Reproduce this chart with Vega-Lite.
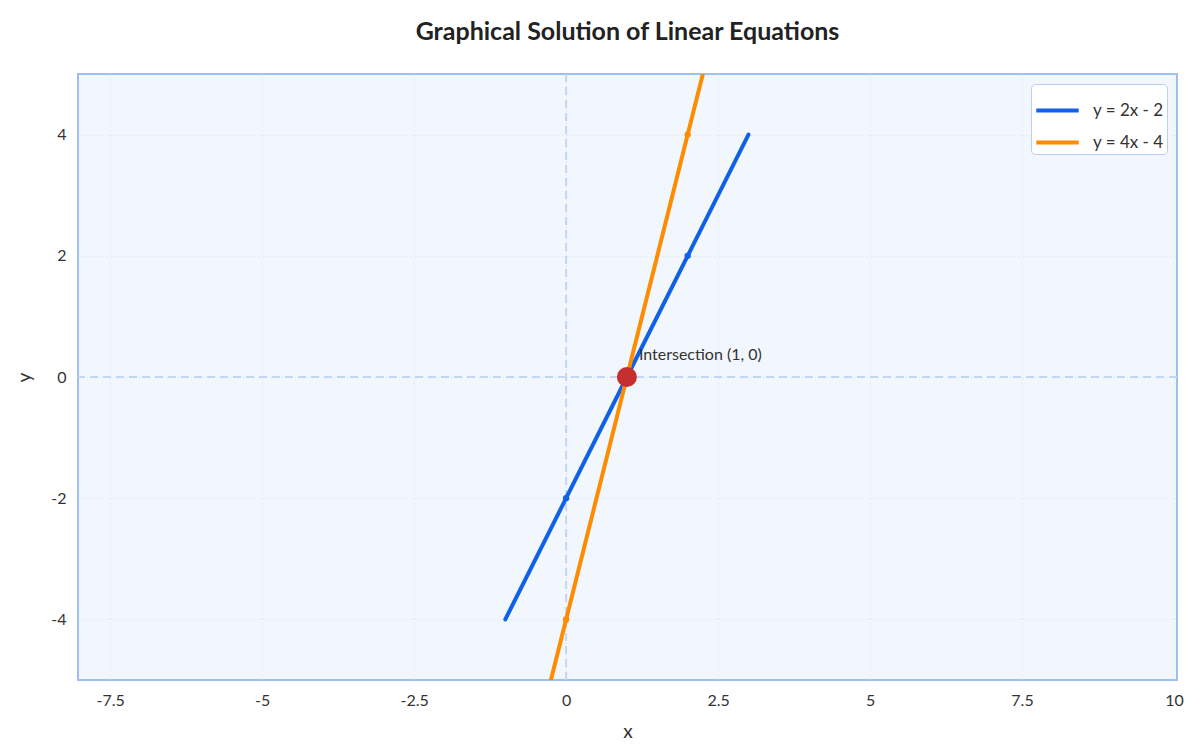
{
  "$schema": "https://vega.github.io/schema/vega-lite/v6.json",
  "width": 1099,
  "height": 606,
  "autosize": {"type": "none"},
  "padding": {"left": 78, "top": 74, "right": 23, "bottom": 76},
  "background": "white",
  "title": {
    "text": "Graphical Solution of Linear Equations",
    "font": "Lato",
    "fontSize": 25,
    "fontWeight": "bold",
    "color": "#222222",
    "offset": 28
  },
  "config": {
    "font": "Lato",
    "view": {"fill": "#f2f6fd", "stroke": "#9dbff2", "strokeWidth": 2},
    "axis": {
      "grid": true,
      "gridColor": "#d5e0f2",
      "gridDash": [1, 3],
      "gridWidth": 1,
      "domain": false,
      "ticks": false,
      "labelFont": "Lato",
      "labelFontSize": 16,
      "labelColor": "#333333",
      "labelPadding": 12,
      "labelExpr": "datum.value + ''",
      "titleFont": "Lato",
      "titleFontSize": 19,
      "titleFontWeight": "normal",
      "titleColor": "#333333"
    }
  },
  "datasets": {
    "lines": [
      {"x": -1, "y": -4, "eq": "y = 2x - 2"},
      {"x": 0, "y": -2, "eq": "y = 2x - 2"},
      {"x": 1, "y": 0, "eq": "y = 2x - 2"},
      {"x": 2, "y": 2, "eq": "y = 2x - 2"},
      {"x": 3, "y": 4, "eq": "y = 2x - 2"},
      {"x": -1, "y": -8, "eq": "y = 4x - 4"},
      {"x": 0, "y": -4, "eq": "y = 4x - 4"},
      {"x": 1, "y": 0, "eq": "y = 4x - 4"},
      {"x": 2, "y": 4, "eq": "y = 4x - 4"},
      {"x": 3, "y": 8, "eq": "y = 4x - 4"}
    ],
    "dots": [
      {"x": 0, "y": -2, "eq": "y = 2x - 2"},
      {"x": 2, "y": 2, "eq": "y = 2x - 2"},
      {"x": 0, "y": -4, "eq": "y = 4x - 4"},
      {"x": 2, "y": 4, "eq": "y = 4x - 4"}
    ],
    "intersection": [{"x": 1, "y": 0, "label": "Intersection (1, 0)"}],
    "axes0": [{"v": 0}]
  },
  "layer": [
    {
      "data": {"name": "axes0"},
      "mark": {"type": "rule", "color": "#c3d6f5", "strokeWidth": 2, "strokeDash": [8, 5]},
      "encoding": {
        "x": {"field": "v", "type": "quantitative", "scale": {"domain": [-8.03, 10.05], "nice": false, "zero": false},
          "axis": {"values": [-7.5, -5, -2.5, 0, 2.5, 5, 7.5, 10], "title": "x", "titlePadding": 14}}
      }
    },
    {
      "data": {"name": "axes0"},
      "mark": {"type": "rule", "color": "#c3d6f5", "strokeWidth": 2, "strokeDash": [8, 5]},
      "encoding": {
        "y": {"field": "v", "type": "quantitative", "scale": {"domain": [-5, 5], "nice": false, "zero": false},
          "axis": {"values": [-4, -2, 0, 2, 4], "title": "y", "titlePadding": 16}}
      }
    },
    {
      "data": {"name": "lines"},
      "mark": {"type": "line", "strokeWidth": 4, "clip": true, "strokeCap": "round"},
      "encoding": {
        "x": {"field": "x", "type": "quantitative"},
        "y": {"field": "y", "type": "quantitative"},
        "color": {
          "field": "eq", "type": "nominal",
          "scale": {"domain": ["y = 2x - 2", "y = 4x - 4"], "range": ["#0f62e8", "#ff8c00"]},
          "legend": {
            "title": null,
            "orient": "top-right",
            "offset": 10,
            "symbolType": "stroke",
            "symbolStrokeWidth": 4,
            "symbolSize": 1800,
            "labelFont": "Lato",
            "labelFontSize": 17,
            "labelColor": "#333333",
            "labelOffset": 12,
            "fillColor": "#ffffff",
            "strokeColor": "#b9cff3",
            "cornerRadius": 4,
            "padding": 3,
            "rowPadding": -16
          }
        }
      }
    },
    {
      "data": {"name": "dots"},
      "mark": {"type": "circle", "size": 40, "opacity": 1, "clip": true},
      "encoding": {
        "x": {"field": "x", "type": "quantitative"},
        "y": {"field": "y", "type": "quantitative"},
        "color": {"field": "eq", "type": "nominal", "legend": null}
      }
    },
    {
      "data": {"name": "intersection"},
      "mark": {"type": "circle", "size": 400, "color": "#c62f2f", "opacity": 1},
      "encoding": {
        "x": {"field": "x", "type": "quantitative"},
        "y": {"field": "y", "type": "quantitative"}
      }
    },
    {
      "data": {"name": "intersection"},
      "mark": {"type": "text", "align": "left", "baseline": "alphabetic", "dx": 12, "dy": -17, "font": "Lato", "fontSize": 16, "color": "#333333"},
      "encoding": {
        "x": {"field": "x", "type": "quantitative"},
        "y": {"field": "y", "type": "quantitative"},
        "text": {"field": "label"}
      }
    }
  ]
}
